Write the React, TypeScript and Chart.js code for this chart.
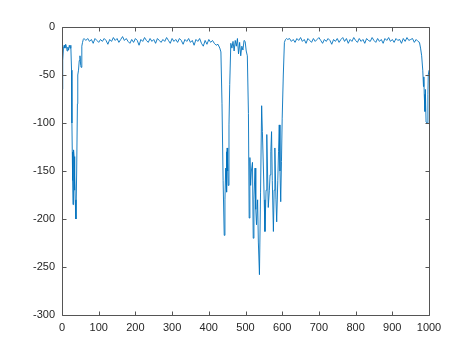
import React, { useEffect, useRef } from "react";
import { Chart, registerables } from "chart.js";

Chart.register(...registerables);

const xValues: number[] = [
  0, 2, 4, 6, 8, 10, 12, 14, 16, 18, 20, 22, 24, 26, 27, 28, 29, 30, 31, 32, 33, 34, 35, 36, 38, 40, 42, 43, 45, 47, 49, 51, 52, 54, 56, 58, 60,
  65, 70, 75, 80, 85, 90, 95, 100, 105, 110, 115, 120, 125, 130, 135, 140, 145, 150, 155, 160, 165, 170, 175, 180, 185, 190, 195, 200,
  205, 210, 215, 220, 225, 230, 235, 240, 245, 250, 255, 260, 265, 270, 275, 280, 285, 290, 295, 300, 305, 310, 315, 320, 325, 330,
  335, 340, 345, 350, 355, 360, 365, 370, 375, 380, 385, 390, 395, 400, 405, 410, 415, 420,
  425, 430, 433, 436, 439, 442, 444, 446, 447, 448, 449, 450, 451, 452, 453, 455, 457, 460,
  463, 466, 469, 472, 475, 478, 481, 484, 487, 490, 493, 496, 499, 502, 505,
  508, 510, 512, 514, 516, 519, 521, 523, 526, 528, 530, 533, 535, 538, 541, 544, 546, 549, 551, 553, 556, 558, 560, 562, 565, 567,
  569, 571, 573, 576, 578, 580, 583, 585, 588, 590, 592, 594, 596, 598, 600, 603, 606, 609, 612,
  615, 620, 625, 630, 635, 640, 645, 650, 655, 660, 665, 670, 675, 680, 685, 690, 695, 700, 705, 710, 715, 720, 725, 730, 735, 740,
  745, 750, 755, 760, 765, 770, 775, 780, 785, 790, 795, 800, 805, 810, 815, 820, 825, 830, 835, 840, 845, 850, 855, 860, 865, 870,
  875, 880, 885, 890, 895, 900, 905, 910, 915, 920, 925, 930, 935, 940, 945, 950, 955, 960, 965, 970,
  974, 977, 980, 983, 985, 986, 987, 989, 990, 992, 995, 997, 998, 1000,
];

const yValues: number[] = [
  -65, -35, -22, -19, -22, -18, -20, -25, -21, -24, -19, -22, -19, -45, -100, -130, -160, -185, -150, -128, -135, -170, -155, -180, -200, -150, -80, -50, -45, -35, -30, -40, -42, -20, -16, -13, -12,
  -14, -12, -15, -13, -17, -12, -14, -16, -13, -15, -12, -14, -18, -13, -15, -11, -14, -12, -16, -13, -10, -14, -12, -15, -17, -13, -16, -12,
  -14, -19, -13, -15, -11, -14, -16, -12, -15, -13, -17, -12, -14, -16, -13, -15, -11, -14, -17, -12, -15, -13, -16, -12, -14, -18,
  -13, -15, -12, -16, -14, -19, -13, -15, -12, -17, -20, -14, -18, -13, -16, -14, -17, -19,
  -18, -22, -26, -80, -160, -217, -180, -147, -160, -130, -172, -126, -150, -140, -165, -102, -60, -17,
  -22, -15, -25, -14, -20, -12, -28, -16, -30, -20, -24, -14, -15, -25, -30,
  -90, -199, -136, -165, -150, -141, -220, -180, -147, -190, -206, -180, -224, -258, -172, -82, -109, -150, -180, -213, -170, -112, -150, -188, -170, -154,
  -130, -109, -160, -213, -170, -126, -180, -203, -160, -130, -102, -150, -182, -140, -95, -50, -16, -13, -12,
  -13, -12, -15, -13, -16, -12, -14, -11, -15, -13, -17, -12, -14, -16, -12, -15, -13, -11, -14, -17, -13, -15, -12, -14, -18, -13,
  -15, -12, -16, -13, -11, -15, -12, -17, -13, -15, -11, -14, -16, -12, -15, -13, -17, -12, -14, -15, -11, -14, -16, -12, -15, -13,
  -17, -12, -14, -11, -15, -13, -16, -12, -14, -13, -17, -12, -15, -11, -14, -13, -12, -16, -13, -15,
  -16, -22, -30, -45, -62, -52, -70, -88, -65, -99, -100, -70, -50, -45,
];

const xTicks: number[] = [0, 100, 200, 300, 400, 500, 600, 700, 800, 900, 1000];
const yTicks: number[] = [-300, -250, -200, -150, -100, -50, 0];

const boxPlugin = {
  id: "matlabBox",
  afterDraw(chart: any) {
    const { ctx, chartArea } = chart;
    const xs = chart.scales.x;
    const ys = chart.scales.y;
    const l = Math.round(chartArea.left) + 0.5;
    const r = Math.round(chartArea.right) + 0.5;
    const t = Math.round(chartArea.top) + 0.5;
    const b = Math.round(chartArea.bottom) + 0.5;
    ctx.save();
    ctx.strokeStyle = "#555555";
    ctx.lineWidth = 1;
    ctx.beginPath();
    ctx.rect(l, t, r - l, b - t);
    const len = 4;
    xTicks.forEach((v) => {
      const px = Math.round(xs.getPixelForValue(v)) + 0.5;
      ctx.moveTo(px, b);
      ctx.lineTo(px, b - len);
      ctx.moveTo(px, t);
      ctx.lineTo(px, t + len);
    });
    yTicks.forEach((v) => {
      const py = Math.round(ys.getPixelForValue(v)) + 0.5;
      ctx.moveTo(l, py);
      ctx.lineTo(l + len, py);
      ctx.moveTo(r, py);
      ctx.lineTo(r - len, py);
    });
    ctx.stroke();
    ctx.restore();
  },
};

export default function App() {
  const ref = useRef<HTMLCanvasElement>(null);
  useEffect(() => {
    if (!ref.current) return;
    const chart = new Chart(ref.current, {
      type: "line",
      data: {
        datasets: [
          {
            data: xValues.map((x, i) => ({ x, y: yValues[i] })),
            borderColor: "#0072BD",
            borderWidth: 0.9,
            pointRadius: 0,
            tension: 0,
            fill: false,
          },
        ],
      },
      options: {
        responsive: false,
        animation: false,
        layout: { padding: { top: 27, right: 45, bottom: 15, left: 0 } },
        plugins: { legend: { display: false }, tooltip: { enabled: false } },
        scales: {
          x: {
            type: "linear",
            min: 0,
            max: 1000,
            grid: { display: false, drawTicks: false },
            border: { display: false },
            afterBuildTicks: (s: any) => {
              s.ticks = xTicks.map((v) => ({ value: v }));
            },
            afterFit: (s: any) => {
              s.height = 25;
            },
            ticks: {
              padding: 6,
              maxRotation: 0,
              autoSkip: false,
              color: "#262626",
              font: { family: "'Liberation Sans', Arial, sans-serif", size: 11 },
              callback: (v: any) => String(v),
            },
          },
          y: {
            type: "linear",
            min: -300,
            max: 0,
            grid: { display: false, drawTicks: false },
            border: { display: false },
            afterBuildTicks: (s: any) => {
              s.ticks = yTicks.map((v) => ({ value: v }));
            },
            afterFit: (s: any) => {
              s.width = 62;
            },
            ticks: {
              padding: 7,
              autoSkip: false,
              color: "#262626",
              font: { family: "'Liberation Sans', Arial, sans-serif", size: 11 },
              callback: (v: any) => String(v),
            },
          },
        },
      },
      plugins: [boxPlugin],
    });
    return () => chart.destroy();
  }, []);
  return (
    <div style={{ position: "absolute", left: 0, top: 0, width: 474, height: 355, background: "#fff" }}>
      <canvas ref={ref} width={474} height={355} />
    </div>
  );
}
